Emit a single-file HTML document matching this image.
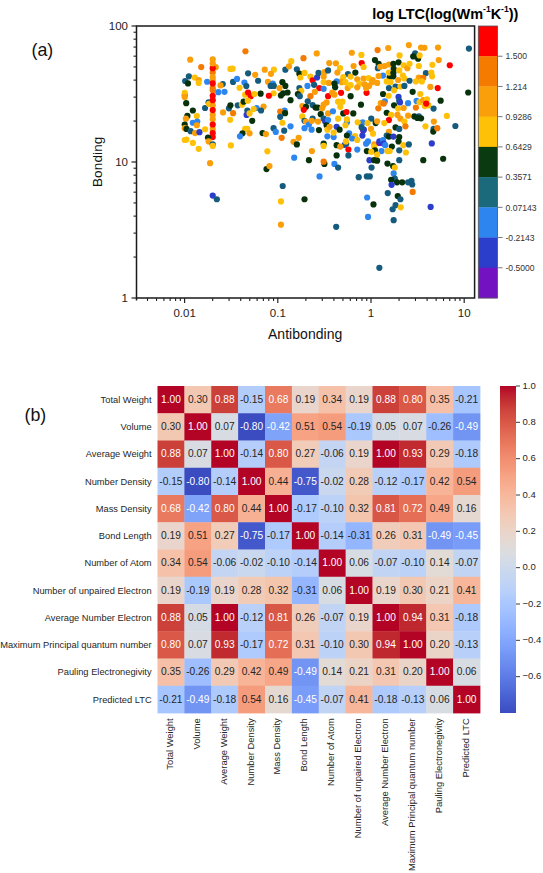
<!DOCTYPE html>
<html><head><meta charset="utf-8"><style>
html,body{margin:0;padding:0;background:#fff;}
svg{display:block;font-family:"Liberation Sans", sans-serif;}
</style></head><body>
<svg width="543" height="873" viewBox="0 0 543 873">
<rect width="543" height="873" fill="#fff"/>
<text x="31.5" y="56" font-size="17.8" fill="#111">(a)</text>
<rect x="136.5" y="26.0" width="338.1" height="272.0" fill="none" stroke="#1a1a1a" stroke-width="1.5"/>
<line x1="136.5" y1="298.0" x2="136.5" y2="300.5" stroke="#1a1a1a" stroke-width="1.5"/>
<line x1="133.5" y1="257.06" x2="136.5" y2="257.06" stroke="#222" stroke-width="1.1"/>
<line x1="133.5" y1="233.11" x2="136.5" y2="233.11" stroke="#222" stroke-width="1.1"/>
<line x1="133.5" y1="216.12" x2="136.5" y2="216.12" stroke="#222" stroke-width="1.1"/>
<line x1="133.5" y1="202.94" x2="136.5" y2="202.94" stroke="#222" stroke-width="1.1"/>
<line x1="133.5" y1="192.17" x2="136.5" y2="192.17" stroke="#222" stroke-width="1.1"/>
<line x1="133.5" y1="183.07" x2="136.5" y2="183.07" stroke="#222" stroke-width="1.1"/>
<line x1="133.5" y1="175.18" x2="136.5" y2="175.18" stroke="#222" stroke-width="1.1"/>
<line x1="133.5" y1="168.22" x2="136.5" y2="168.22" stroke="#222" stroke-width="1.1"/>
<line x1="133.5" y1="121.06" x2="136.5" y2="121.06" stroke="#222" stroke-width="1.1"/>
<line x1="133.5" y1="97.11" x2="136.5" y2="97.11" stroke="#222" stroke-width="1.1"/>
<line x1="133.5" y1="80.12" x2="136.5" y2="80.12" stroke="#222" stroke-width="1.1"/>
<line x1="133.5" y1="66.94" x2="136.5" y2="66.94" stroke="#222" stroke-width="1.1"/>
<line x1="133.5" y1="56.17" x2="136.5" y2="56.17" stroke="#222" stroke-width="1.1"/>
<line x1="133.5" y1="47.07" x2="136.5" y2="47.07" stroke="#222" stroke-width="1.1"/>
<line x1="133.5" y1="39.18" x2="136.5" y2="39.18" stroke="#222" stroke-width="1.1"/>
<line x1="133.5" y1="32.22" x2="136.5" y2="32.22" stroke="#222" stroke-width="1.1"/>
<line x1="131.5" y1="298.00" x2="136.5" y2="298.00" stroke="#222" stroke-width="1.2"/>
<text x="128" y="301.50" font-size="11.5" text-anchor="end" fill="#222">1</text>
<line x1="131.5" y1="162.00" x2="136.5" y2="162.00" stroke="#222" stroke-width="1.2"/>
<text x="128" y="165.50" font-size="11.5" text-anchor="end" fill="#222">10</text>
<line x1="131.5" y1="26.00" x2="136.5" y2="26.00" stroke="#222" stroke-width="1.2"/>
<text x="128" y="29.50" font-size="11.5" text-anchor="end" fill="#222">100</text>
<line x1="147.51" y1="298.0" x2="147.51" y2="301.0" stroke="#222" stroke-width="1.1"/>
<line x1="156.54" y1="298.0" x2="156.54" y2="301.0" stroke="#222" stroke-width="1.1"/>
<line x1="163.92" y1="298.0" x2="163.92" y2="301.0" stroke="#222" stroke-width="1.1"/>
<line x1="170.16" y1="298.0" x2="170.16" y2="301.0" stroke="#222" stroke-width="1.1"/>
<line x1="175.57" y1="298.0" x2="175.57" y2="301.0" stroke="#222" stroke-width="1.1"/>
<line x1="180.34" y1="298.0" x2="180.34" y2="301.0" stroke="#222" stroke-width="1.1"/>
<line x1="212.66" y1="298.0" x2="212.66" y2="301.0" stroke="#222" stroke-width="1.1"/>
<line x1="229.07" y1="298.0" x2="229.07" y2="301.0" stroke="#222" stroke-width="1.1"/>
<line x1="240.71" y1="298.0" x2="240.71" y2="301.0" stroke="#222" stroke-width="1.1"/>
<line x1="249.74" y1="298.0" x2="249.74" y2="301.0" stroke="#222" stroke-width="1.1"/>
<line x1="257.12" y1="298.0" x2="257.12" y2="301.0" stroke="#222" stroke-width="1.1"/>
<line x1="263.36" y1="298.0" x2="263.36" y2="301.0" stroke="#222" stroke-width="1.1"/>
<line x1="268.77" y1="298.0" x2="268.77" y2="301.0" stroke="#222" stroke-width="1.1"/>
<line x1="273.54" y1="298.0" x2="273.54" y2="301.0" stroke="#222" stroke-width="1.1"/>
<line x1="305.86" y1="298.0" x2="305.86" y2="301.0" stroke="#222" stroke-width="1.1"/>
<line x1="322.27" y1="298.0" x2="322.27" y2="301.0" stroke="#222" stroke-width="1.1"/>
<line x1="333.91" y1="298.0" x2="333.91" y2="301.0" stroke="#222" stroke-width="1.1"/>
<line x1="342.94" y1="298.0" x2="342.94" y2="301.0" stroke="#222" stroke-width="1.1"/>
<line x1="350.32" y1="298.0" x2="350.32" y2="301.0" stroke="#222" stroke-width="1.1"/>
<line x1="356.56" y1="298.0" x2="356.56" y2="301.0" stroke="#222" stroke-width="1.1"/>
<line x1="361.97" y1="298.0" x2="361.97" y2="301.0" stroke="#222" stroke-width="1.1"/>
<line x1="366.74" y1="298.0" x2="366.74" y2="301.0" stroke="#222" stroke-width="1.1"/>
<line x1="399.06" y1="298.0" x2="399.06" y2="301.0" stroke="#222" stroke-width="1.1"/>
<line x1="415.47" y1="298.0" x2="415.47" y2="301.0" stroke="#222" stroke-width="1.1"/>
<line x1="427.11" y1="298.0" x2="427.11" y2="301.0" stroke="#222" stroke-width="1.1"/>
<line x1="436.14" y1="298.0" x2="436.14" y2="301.0" stroke="#222" stroke-width="1.1"/>
<line x1="443.52" y1="298.0" x2="443.52" y2="301.0" stroke="#222" stroke-width="1.1"/>
<line x1="449.76" y1="298.0" x2="449.76" y2="301.0" stroke="#222" stroke-width="1.1"/>
<line x1="455.17" y1="298.0" x2="455.17" y2="301.0" stroke="#222" stroke-width="1.1"/>
<line x1="459.94" y1="298.0" x2="459.94" y2="301.0" stroke="#222" stroke-width="1.1"/>
<line x1="184.60" y1="298.0" x2="184.60" y2="303.0" stroke="#222" stroke-width="1.2"/>
<text x="184.60" y="316.7" font-size="11.5" text-anchor="middle" fill="#222">0.01</text>
<line x1="277.80" y1="298.0" x2="277.80" y2="303.0" stroke="#222" stroke-width="1.2"/>
<text x="277.80" y="316.7" font-size="11.5" text-anchor="middle" fill="#222">0.1</text>
<line x1="371.00" y1="298.0" x2="371.00" y2="303.0" stroke="#222" stroke-width="1.2"/>
<text x="371.00" y="316.7" font-size="11.5" text-anchor="middle" fill="#222">1</text>
<line x1="464.20" y1="298.0" x2="464.20" y2="303.0" stroke="#222" stroke-width="1.2"/>
<text x="464.20" y="316.7" font-size="11.5" text-anchor="middle" fill="#222">10</text>
<text x="268" y="338.9" font-size="14" fill="#111" textLength="74.3">Antibonding</text>
<text transform="translate(101.5,187) rotate(-90)" font-size="13.5" fill="#111" textLength="50.3">Bonding</text>
<text x="372.2" y="18.7" font-size="14.5" font-weight="bold" fill="#000">log LTC(log(Wm<tspan font-size="8.5" dy="-6.5">-1</tspan><tspan dy="6.5">K</tspan><tspan font-size="8.5" dy="-6.5">-1</tspan><tspan dy="6.5">))</tspan></text>
<rect x="478.3" y="26.00" width="19.30" height="30.52" fill="#FF0000"/>
<rect x="478.3" y="56.22" width="19.30" height="30.52" fill="#F57A00"/>
<rect x="478.3" y="86.44" width="19.30" height="30.52" fill="#FA9F0A"/>
<rect x="478.3" y="116.67" width="19.30" height="30.52" fill="#FFC107"/>
<rect x="478.3" y="146.89" width="19.30" height="30.52" fill="#093A10"/>
<rect x="478.3" y="177.11" width="19.30" height="30.52" fill="#1B6A7C"/>
<rect x="478.3" y="207.33" width="19.30" height="30.52" fill="#2D86F0"/>
<rect x="478.3" y="237.56" width="19.30" height="30.52" fill="#2B3DCB"/>
<rect x="478.3" y="267.78" width="19.30" height="30.52" fill="#7212C0"/>
<rect x="478.3" y="26.0" width="19.30" height="272.0" fill="none" stroke="#555" stroke-width="0.8"/>
<line x1="497.6" y1="56.22" x2="502.6" y2="56.22" stroke="#777" stroke-width="1"/>
<text x="505.5" y="59.42" font-size="8.6" fill="#333">1.500</text>
<line x1="497.6" y1="86.44" x2="502.6" y2="86.44" stroke="#777" stroke-width="1"/>
<text x="505.5" y="89.64" font-size="8.6" fill="#333">1.214</text>
<line x1="497.6" y1="116.67" x2="502.6" y2="116.67" stroke="#777" stroke-width="1"/>
<text x="505.5" y="119.87" font-size="8.6" fill="#333">0.9286</text>
<line x1="497.6" y1="146.89" x2="502.6" y2="146.89" stroke="#777" stroke-width="1"/>
<text x="505.5" y="150.09" font-size="8.6" fill="#333">0.6429</text>
<line x1="497.6" y1="177.11" x2="502.6" y2="177.11" stroke="#777" stroke-width="1"/>
<text x="505.5" y="180.31" font-size="8.6" fill="#333">0.3571</text>
<line x1="497.6" y1="207.33" x2="502.6" y2="207.33" stroke="#777" stroke-width="1"/>
<text x="505.5" y="210.53" font-size="8.6" fill="#333">0.07143</text>
<line x1="497.6" y1="237.56" x2="502.6" y2="237.56" stroke="#777" stroke-width="1"/>
<text x="505.5" y="240.76" font-size="8.6" fill="#333">-0.2143</text>
<line x1="497.6" y1="267.78" x2="502.6" y2="267.78" stroke="#777" stroke-width="1"/>
<text x="505.5" y="270.98" font-size="8.6" fill="#333">-0.5000</text>
<circle cx="190.18" cy="59.66" r="3.1" fill="#FA9F0A"/>
<circle cx="212.73" cy="59.36" r="3.1" fill="#FA9F0A"/>
<circle cx="215.67" cy="67.17" r="3.1" fill="#FA9F0A"/>
<circle cx="201.23" cy="67.02" r="3.1" fill="#F57A00"/>
<circle cx="230.41" cy="68.94" r="3.1" fill="#FFC107"/>
<circle cx="232.62" cy="68.64" r="3.1" fill="#FFC107"/>
<circle cx="245.43" cy="51.26" r="3.1" fill="#F57A00"/>
<circle cx="188.86" cy="76.31" r="3.1" fill="#145B7E"/>
<circle cx="185.17" cy="81.02" r="3.1" fill="#145B7E"/>
<circle cx="187.97" cy="83.38" r="3.1" fill="#07320C"/>
<circle cx="194.75" cy="77.48" r="3.1" fill="#FFC107"/>
<circle cx="198.73" cy="79.99" r="3.1" fill="#FA9F0A"/>
<circle cx="198.73" cy="82.94" r="3.1" fill="#FFC107"/>
<circle cx="207.13" cy="81.76" r="3.1" fill="#2D86F0"/>
<circle cx="212.73" cy="72.62" r="3.1" fill="#F57A00"/>
<circle cx="212.73" cy="77.04" r="3.1" fill="#FA9F0A"/>
<circle cx="212.73" cy="79.99" r="3.1" fill="#FA9F0A"/>
<circle cx="212.73" cy="88.09" r="3.1" fill="#F57A00"/>
<circle cx="212.73" cy="90.3" r="3.1" fill="#F57A00"/>
<circle cx="212.73" cy="68.2" r="3.1" fill="#FF0000"/>
<circle cx="212.73" cy="83.38" r="3.1" fill="#FF0000"/>
<circle cx="212.73" cy="95.75" r="3.1" fill="#FF0000"/>
<circle cx="222.74" cy="84.11" r="3.1" fill="#145B7E"/>
<circle cx="220.53" cy="85.44" r="3.1" fill="#FA9F0A"/>
<circle cx="218.32" cy="92.22" r="3.1" fill="#2D86F0"/>
<circle cx="224.51" cy="91.78" r="3.1" fill="#2D86F0"/>
<circle cx="233.06" cy="81.9" r="3.1" fill="#145B7E"/>
<circle cx="237.03" cy="78.96" r="3.1" fill="#2D86F0"/>
<circle cx="244.4" cy="82.49" r="3.1" fill="#2D86F0"/>
<circle cx="246.32" cy="86.03" r="3.1" fill="#145B7E"/>
<circle cx="239.54" cy="87.8" r="3.1" fill="#FFC107"/>
<circle cx="248.08" cy="73.36" r="3.1" fill="#145B7E"/>
<circle cx="245.14" cy="94.72" r="3.1" fill="#FFC107"/>
<circle cx="248.08" cy="92.51" r="3.1" fill="#FF0000"/>
<circle cx="250.74" cy="96.2" r="3.1" fill="#FF0000"/>
<circle cx="184.73" cy="95.16" r="3.1" fill="#2D86F0"/>
<circle cx="184.73" cy="92.81" r="3.1" fill="#FFC107"/>
<circle cx="184.73" cy="96.93" r="3.1" fill="#FA9F0A"/>
<circle cx="212.73" cy="63.34" r="3.1" fill="#FA9F0A"/>
<circle cx="316.74" cy="53.47" r="3.1" fill="#FA9F0A"/>
<circle cx="303.48" cy="58.18" r="3.1" fill="#F57A00"/>
<circle cx="291.25" cy="61.13" r="3.1" fill="#FFC107"/>
<circle cx="329.26" cy="63.05" r="3.1" fill="#FA9F0A"/>
<circle cx="285.36" cy="69.68" r="3.1" fill="#145B7E"/>
<circle cx="289.04" cy="66.29" r="3.1" fill="#FA9F0A"/>
<circle cx="296.85" cy="69.23" r="3.1" fill="#145B7E"/>
<circle cx="299.36" cy="73.65" r="3.1" fill="#07320C"/>
<circle cx="304.51" cy="72.92" r="3.1" fill="#FFC107"/>
<circle cx="300.39" cy="77.48" r="3.1" fill="#FFC107"/>
<circle cx="264.73" cy="69.68" r="3.1" fill="#FA9F0A"/>
<circle cx="273.87" cy="69.68" r="3.1" fill="#FFC107"/>
<circle cx="270.92" cy="73.8" r="3.1" fill="#FA9F0A"/>
<circle cx="255.16" cy="74.83" r="3.1" fill="#FA9F0A"/>
<circle cx="258.1" cy="80.73" r="3.1" fill="#145B7E"/>
<circle cx="267.97" cy="81.76" r="3.1" fill="#FA9F0A"/>
<circle cx="272.84" cy="83.67" r="3.1" fill="#2D86F0"/>
<circle cx="270.63" cy="85.88" r="3.1" fill="#145B7E"/>
<circle cx="273.87" cy="85.88" r="3.1" fill="#145B7E"/>
<circle cx="282.41" cy="82.2" r="3.1" fill="#07320C"/>
<circle cx="285.36" cy="85.88" r="3.1" fill="#07320C"/>
<circle cx="279.47" cy="88.09" r="3.1" fill="#FA9F0A"/>
<circle cx="283.15" cy="93.25" r="3.1" fill="#07320C"/>
<circle cx="287.57" cy="92.51" r="3.1" fill="#07320C"/>
<circle cx="280.94" cy="95.46" r="3.1" fill="#07320C"/>
<circle cx="273.57" cy="93.25" r="3.1" fill="#FFC107"/>
<circle cx="268.86" cy="95.75" r="3.1" fill="#FF0000"/>
<circle cx="260.61" cy="93.69" r="3.1" fill="#07320C"/>
<circle cx="254.42" cy="93.99" r="3.1" fill="#FFC107"/>
<circle cx="299.36" cy="88.09" r="3.1" fill="#145B7E"/>
<circle cx="301.27" cy="90.74" r="3.1" fill="#FFC107"/>
<circle cx="297.88" cy="93.99" r="3.1" fill="#07320C"/>
<circle cx="299.8" cy="96.2" r="3.1" fill="#145B7E"/>
<circle cx="310.41" cy="76.6" r="3.1" fill="#FFC107"/>
<circle cx="312.62" cy="80.28" r="3.1" fill="#FF0000"/>
<circle cx="317.03" cy="77.48" r="3.1" fill="#2B3DCB"/>
<circle cx="318.51" cy="72.92" r="3.1" fill="#145B7E"/>
<circle cx="324.4" cy="72.18" r="3.1" fill="#FA9F0A"/>
<circle cx="323.66" cy="76.6" r="3.1" fill="#FA9F0A"/>
<circle cx="328.08" cy="70.41" r="3.1" fill="#145B7E"/>
<circle cx="307.46" cy="85.88" r="3.1" fill="#2D86F0"/>
<circle cx="314.09" cy="84.85" r="3.1" fill="#145B7E"/>
<circle cx="319.24" cy="88.09" r="3.1" fill="#FF0000"/>
<circle cx="323.66" cy="88.83" r="3.1" fill="#2D86F0"/>
<circle cx="314.83" cy="91.78" r="3.1" fill="#FA9F0A"/>
<circle cx="323.66" cy="82.2" r="3.1" fill="#FFC107"/>
<circle cx="310.41" cy="96.2" r="3.1" fill="#F57A00"/>
<circle cx="328.08" cy="96.2" r="3.1" fill="#FF0000"/>
<circle cx="328.82" cy="82.94" r="3.1" fill="#FA9F0A"/>
<circle cx="351.8" cy="52.73" r="3.1" fill="#FA9F0A"/>
<circle cx="361.38" cy="54.94" r="3.1" fill="#FFC107"/>
<circle cx="377.59" cy="50.08" r="3.1" fill="#F57A00"/>
<circle cx="388.2" cy="48.02" r="3.1" fill="#FA9F0A"/>
<circle cx="408.82" cy="45.07" r="3.1" fill="#FA9F0A"/>
<circle cx="399.54" cy="55.38" r="3.1" fill="#FFC107"/>
<circle cx="361.68" cy="63.05" r="3.1" fill="#FF0000"/>
<circle cx="363.59" cy="67.02" r="3.1" fill="#FFC107"/>
<circle cx="353.57" cy="65.99" r="3.1" fill="#FA9F0A"/>
<circle cx="335.89" cy="63.34" r="3.1" fill="#FA9F0A"/>
<circle cx="340.02" cy="68.2" r="3.1" fill="#FFC107"/>
<circle cx="337.37" cy="72.62" r="3.1" fill="#FA9F0A"/>
<circle cx="347.97" cy="74.1" r="3.1" fill="#145B7E"/>
<circle cx="350.63" cy="76.6" r="3.1" fill="#FFC107"/>
<circle cx="355.34" cy="72.62" r="3.1" fill="#07320C"/>
<circle cx="374.94" cy="60.1" r="3.1" fill="#07320C"/>
<circle cx="378.62" cy="63.78" r="3.1" fill="#07320C"/>
<circle cx="377.88" cy="68.2" r="3.1" fill="#145B7E"/>
<circle cx="380.09" cy="66.73" r="3.1" fill="#FA9F0A"/>
<circle cx="384.51" cy="65.99" r="3.1" fill="#FA9F0A"/>
<circle cx="388.93" cy="64.52" r="3.1" fill="#FA9F0A"/>
<circle cx="393.35" cy="63.78" r="3.1" fill="#07320C"/>
<circle cx="393.65" cy="68.94" r="3.1" fill="#07320C"/>
<circle cx="393.35" cy="76.31" r="3.1" fill="#07320C"/>
<circle cx="389.67" cy="77.04" r="3.1" fill="#07320C"/>
<circle cx="398.51" cy="62.31" r="3.1" fill="#07320C"/>
<circle cx="399.24" cy="70.41" r="3.1" fill="#FFC107"/>
<circle cx="403.66" cy="65.26" r="3.1" fill="#FFC107"/>
<circle cx="407.35" cy="68.2" r="3.1" fill="#FA9F0A"/>
<circle cx="409.56" cy="63.78" r="3.1" fill="#FFC107"/>
<circle cx="388.93" cy="72.62" r="3.1" fill="#FFC107"/>
<circle cx="383.04" cy="75.57" r="3.1" fill="#2D86F0"/>
<circle cx="378.62" cy="76.01" r="3.1" fill="#FA9F0A"/>
<circle cx="402.93" cy="75.57" r="3.1" fill="#FFC107"/>
<circle cx="404.4" cy="78.52" r="3.1" fill="#FFC107"/>
<circle cx="398.07" cy="79.99" r="3.1" fill="#FA9F0A"/>
<circle cx="343.26" cy="77.04" r="3.1" fill="#FFC107"/>
<circle cx="341.79" cy="80.73" r="3.1" fill="#FFC107"/>
<circle cx="341.79" cy="82.2" r="3.1" fill="#FA9F0A"/>
<circle cx="345.47" cy="82.2" r="3.1" fill="#FFC107"/>
<circle cx="336.63" cy="81.46" r="3.1" fill="#2D86F0"/>
<circle cx="334.42" cy="83.67" r="3.1" fill="#07320C"/>
<circle cx="335.16" cy="87.36" r="3.1" fill="#07320C"/>
<circle cx="332.21" cy="92.51" r="3.1" fill="#FA9F0A"/>
<circle cx="334.42" cy="94.72" r="3.1" fill="#FA9F0A"/>
<circle cx="357.26" cy="79.25" r="3.1" fill="#FA9F0A"/>
<circle cx="363.59" cy="78.52" r="3.1" fill="#FA9F0A"/>
<circle cx="368.6" cy="78.07" r="3.1" fill="#FFC107"/>
<circle cx="372.73" cy="79.99" r="3.1" fill="#FA9F0A"/>
<circle cx="359.47" cy="83.67" r="3.1" fill="#FFC107"/>
<circle cx="364.62" cy="84.41" r="3.1" fill="#FA9F0A"/>
<circle cx="369.04" cy="85.88" r="3.1" fill="#FA9F0A"/>
<circle cx="371.99" cy="82.2" r="3.1" fill="#FA9F0A"/>
<circle cx="377.15" cy="82.94" r="3.1" fill="#FA9F0A"/>
<circle cx="347.68" cy="88.09" r="3.1" fill="#FA9F0A"/>
<circle cx="350.63" cy="85.15" r="3.1" fill="#FFC107"/>
<circle cx="357.26" cy="87.36" r="3.1" fill="#FA9F0A"/>
<circle cx="386.72" cy="81.46" r="3.1" fill="#FFC107"/>
<circle cx="390.41" cy="82.2" r="3.1" fill="#FFC107"/>
<circle cx="388.93" cy="88.09" r="3.1" fill="#145B7E"/>
<circle cx="395.56" cy="86.62" r="3.1" fill="#145B7E"/>
<circle cx="394.09" cy="90.3" r="3.1" fill="#FFC107"/>
<circle cx="400.42" cy="86.62" r="3.1" fill="#FFC107"/>
<circle cx="404.4" cy="85.88" r="3.1" fill="#145B7E"/>
<circle cx="341.05" cy="92.81" r="3.1" fill="#FF0000"/>
<circle cx="366.54" cy="92.81" r="3.1" fill="#FF0000"/>
<circle cx="350.63" cy="96.2" r="3.1" fill="#07320C"/>
<circle cx="383.04" cy="93.99" r="3.1" fill="#07320C"/>
<circle cx="388.64" cy="95.75" r="3.1" fill="#FFC107"/>
<circle cx="366.1" cy="88.09" r="3.1" fill="#FA9F0A"/>
<circle cx="398.51" cy="96.93" r="3.1" fill="#2B3DCB"/>
<circle cx="409.56" cy="80.73" r="3.1" fill="#145B7E"/>
<circle cx="393.35" cy="73.06" r="3.1" fill="#07320C"/>
<circle cx="421.05" cy="47.58" r="3.1" fill="#FA9F0A"/>
<circle cx="424.44" cy="47.87" r="3.1" fill="#FA9F0A"/>
<circle cx="437.99" cy="47.58" r="3.1" fill="#FA9F0A"/>
<circle cx="468.93" cy="48.61" r="3.1" fill="#145B7E"/>
<circle cx="415.16" cy="53.47" r="3.1" fill="#145B7E"/>
<circle cx="413.24" cy="56.42" r="3.1" fill="#07320C"/>
<circle cx="418.1" cy="58.63" r="3.1" fill="#07320C"/>
<circle cx="419.58" cy="55.38" r="3.1" fill="#FFC107"/>
<circle cx="438.73" cy="60.1" r="3.1" fill="#FA9F0A"/>
<circle cx="449.78" cy="65.26" r="3.1" fill="#FF0000"/>
<circle cx="418.84" cy="65.99" r="3.1" fill="#FFC107"/>
<circle cx="432.39" cy="64.81" r="3.1" fill="#FFC107"/>
<circle cx="425.91" cy="73.06" r="3.1" fill="#145B7E"/>
<circle cx="431.36" cy="72.62" r="3.1" fill="#FFC107"/>
<circle cx="432.1" cy="76.31" r="3.1" fill="#FFC107"/>
<circle cx="418.84" cy="77.48" r="3.1" fill="#FA9F0A"/>
<circle cx="423.26" cy="77.78" r="3.1" fill="#F57A00"/>
<circle cx="421.79" cy="81.46" r="3.1" fill="#FFC107"/>
<circle cx="415.89" cy="81.46" r="3.1" fill="#FFC107"/>
<circle cx="430.33" cy="86.91" r="3.1" fill="#FA9F0A"/>
<circle cx="437.7" cy="88.09" r="3.1" fill="#FF0000"/>
<circle cx="412.65" cy="91.78" r="3.1" fill="#07320C"/>
<circle cx="420.31" cy="93.99" r="3.1" fill="#FFC107"/>
<circle cx="468.2" cy="92.51" r="3.1" fill="#07320C"/>
<circle cx="186.21" cy="103.16" r="3.1" fill="#07320C"/>
<circle cx="192.84" cy="110.52" r="3.1" fill="#07320C"/>
<circle cx="205.06" cy="108.02" r="3.1" fill="#145B7E"/>
<circle cx="208.6" cy="102.42" r="3.1" fill="#145B7E"/>
<circle cx="209.04" cy="103.89" r="3.1" fill="#FFC107"/>
<circle cx="212.73" cy="105.37" r="3.1" fill="#FA9F0A"/>
<circle cx="212.73" cy="114.94" r="3.1" fill="#FA9F0A"/>
<circle cx="212.73" cy="119.36" r="3.1" fill="#FA9F0A"/>
<circle cx="212.73" cy="128.94" r="3.1" fill="#FA9F0A"/>
<circle cx="212.73" cy="100.21" r="3.1" fill="#FF0000"/>
<circle cx="212.73" cy="110.08" r="3.1" fill="#FF0000"/>
<circle cx="212.73" cy="124.52" r="3.1" fill="#FF0000"/>
<circle cx="212.73" cy="133.06" r="3.1" fill="#FF0000"/>
<circle cx="212.73" cy="137.04" r="3.1" fill="#FF0000"/>
<circle cx="187.38" cy="115.97" r="3.1" fill="#07320C"/>
<circle cx="185.91" cy="118.63" r="3.1" fill="#FA9F0A"/>
<circle cx="196.81" cy="116.12" r="3.1" fill="#FFC107"/>
<circle cx="192.84" cy="122.75" r="3.1" fill="#2D86F0"/>
<circle cx="197.26" cy="121.57" r="3.1" fill="#2D86F0"/>
<circle cx="196.81" cy="125.26" r="3.1" fill="#FA9F0A"/>
<circle cx="184.73" cy="124.52" r="3.1" fill="#07320C"/>
<circle cx="184.73" cy="128.2" r="3.1" fill="#FA9F0A"/>
<circle cx="186.5" cy="128.94" r="3.1" fill="#07320C"/>
<circle cx="190.63" cy="131.15" r="3.1" fill="#145B7E"/>
<circle cx="195.05" cy="133.06" r="3.1" fill="#FA9F0A"/>
<circle cx="199.47" cy="132.18" r="3.1" fill="#2B3DCB"/>
<circle cx="205.06" cy="129.23" r="3.1" fill="#FFC107"/>
<circle cx="208.01" cy="137.48" r="3.1" fill="#07320C"/>
<circle cx="208.6" cy="141.46" r="3.1" fill="#FA9F0A"/>
<circle cx="212.73" cy="144.41" r="3.1" fill="#145B7E"/>
<circle cx="212.73" cy="145.88" r="3.1" fill="#FFC107"/>
<circle cx="184.73" cy="139.99" r="3.1" fill="#FFC107"/>
<circle cx="186.5" cy="139.55" r="3.1" fill="#FFC107"/>
<circle cx="192.84" cy="142.94" r="3.1" fill="#FFC107"/>
<circle cx="198.73" cy="148.83" r="3.1" fill="#FFC107"/>
<circle cx="223.04" cy="112.44" r="3.1" fill="#FA9F0A"/>
<circle cx="233.06" cy="113.17" r="3.1" fill="#F57A00"/>
<circle cx="228.93" cy="108.31" r="3.1" fill="#145B7E"/>
<circle cx="230.41" cy="105.37" r="3.1" fill="#07320C"/>
<circle cx="237.77" cy="105.37" r="3.1" fill="#145B7E"/>
<circle cx="241.9" cy="104.63" r="3.1" fill="#FFC107"/>
<circle cx="243.66" cy="101.68" r="3.1" fill="#07320C"/>
<circle cx="247.79" cy="100.65" r="3.1" fill="#FFC107"/>
<circle cx="230.11" cy="119.8" r="3.1" fill="#FFC107"/>
<circle cx="247.35" cy="110.52" r="3.1" fill="#145B7E"/>
<circle cx="246.61" cy="114.94" r="3.1" fill="#2B3DCB"/>
<circle cx="249.56" cy="113.47" r="3.1" fill="#FFC107"/>
<circle cx="245.14" cy="128.94" r="3.1" fill="#FFC107"/>
<circle cx="247.35" cy="128.94" r="3.1" fill="#FFC107"/>
<circle cx="242.49" cy="133.36" r="3.1" fill="#07320C"/>
<circle cx="239.98" cy="136.31" r="3.1" fill="#2D86F0"/>
<circle cx="249.56" cy="133.36" r="3.1" fill="#FA9F0A"/>
<circle cx="230.85" cy="145.44" r="3.1" fill="#FFC107"/>
<circle cx="290.52" cy="100.21" r="3.1" fill="#07320C"/>
<circle cx="307.75" cy="101.24" r="3.1" fill="#145B7E"/>
<circle cx="263.55" cy="106.55" r="3.1" fill="#FA9F0A"/>
<circle cx="256.63" cy="108.02" r="3.1" fill="#2D86F0"/>
<circle cx="261.05" cy="110.52" r="3.1" fill="#145B7E"/>
<circle cx="253.68" cy="109.05" r="3.1" fill="#FFC107"/>
<circle cx="252.21" cy="120.84" r="3.1" fill="#07320C"/>
<circle cx="284.62" cy="110.52" r="3.1" fill="#2D86F0"/>
<circle cx="280.2" cy="111.55" r="3.1" fill="#F57A00"/>
<circle cx="285.06" cy="113.17" r="3.1" fill="#07320C"/>
<circle cx="280.2" cy="116.86" r="3.1" fill="#145B7E"/>
<circle cx="282.41" cy="122.75" r="3.1" fill="#FFC107"/>
<circle cx="290.52" cy="126.29" r="3.1" fill="#2D86F0"/>
<circle cx="273.57" cy="128.2" r="3.1" fill="#145B7E"/>
<circle cx="275.78" cy="131.89" r="3.1" fill="#2D86F0"/>
<circle cx="284.18" cy="130.71" r="3.1" fill="#145B7E"/>
<circle cx="262.52" cy="133.06" r="3.1" fill="#07320C"/>
<circle cx="265.91" cy="134.1" r="3.1" fill="#FA9F0A"/>
<circle cx="281.68" cy="137.78" r="3.1" fill="#F57A00"/>
<circle cx="298.62" cy="137.78" r="3.1" fill="#FA9F0A"/>
<circle cx="293.46" cy="141.76" r="3.1" fill="#FA9F0A"/>
<circle cx="296.85" cy="144.41" r="3.1" fill="#07320C"/>
<circle cx="267.38" cy="151.33" r="3.1" fill="#FFC107"/>
<circle cx="311.88" cy="151.04" r="3.1" fill="#FA9F0A"/>
<circle cx="294.2" cy="157.67" r="3.1" fill="#2D86F0"/>
<circle cx="302.3" cy="106.1" r="3.1" fill="#FA9F0A"/>
<circle cx="305.99" cy="106.84" r="3.1" fill="#07320C"/>
<circle cx="303.78" cy="109.79" r="3.1" fill="#FF0000"/>
<circle cx="312.62" cy="105.07" r="3.1" fill="#145B7E"/>
<circle cx="315.56" cy="107.58" r="3.1" fill="#07320C"/>
<circle cx="317.77" cy="107.58" r="3.1" fill="#07320C"/>
<circle cx="322.19" cy="108.31" r="3.1" fill="#FA9F0A"/>
<circle cx="323.66" cy="104.63" r="3.1" fill="#FA9F0A"/>
<circle cx="326.61" cy="102.42" r="3.1" fill="#FA9F0A"/>
<circle cx="302.3" cy="116.42" r="3.1" fill="#FFC107"/>
<circle cx="312.62" cy="118.63" r="3.1" fill="#145B7E"/>
<circle cx="304.51" cy="120.84" r="3.1" fill="#145B7E"/>
<circle cx="305.99" cy="121.57" r="3.1" fill="#FA9F0A"/>
<circle cx="308.93" cy="124.52" r="3.1" fill="#2D86F0"/>
<circle cx="311.88" cy="120.84" r="3.1" fill="#FA9F0A"/>
<circle cx="318.07" cy="121.57" r="3.1" fill="#FA9F0A"/>
<circle cx="320.72" cy="114.21" r="3.1" fill="#07320C"/>
<circle cx="328.08" cy="113.47" r="3.1" fill="#FA9F0A"/>
<circle cx="323.66" cy="118.63" r="3.1" fill="#145B7E"/>
<circle cx="325.14" cy="121.57" r="3.1" fill="#2B3DCB"/>
<circle cx="328.08" cy="120.1" r="3.1" fill="#2D86F0"/>
<circle cx="304.51" cy="128.2" r="3.1" fill="#2D86F0"/>
<circle cx="311.58" cy="129.68" r="3.1" fill="#2D86F0"/>
<circle cx="318.95" cy="130.12" r="3.1" fill="#07320C"/>
<circle cx="326.61" cy="125.26" r="3.1" fill="#07320C"/>
<circle cx="327.35" cy="129.68" r="3.1" fill="#FFC107"/>
<circle cx="329.56" cy="126.73" r="3.1" fill="#FA9F0A"/>
<circle cx="327.35" cy="136.31" r="3.1" fill="#2D86F0"/>
<circle cx="323.66" cy="143.67" r="3.1" fill="#07320C"/>
<circle cx="323.66" cy="145.88" r="3.1" fill="#FFC107"/>
<circle cx="338.1" cy="101.68" r="3.1" fill="#FFC107"/>
<circle cx="342.52" cy="101.68" r="3.1" fill="#FFC107"/>
<circle cx="340.31" cy="106.84" r="3.1" fill="#FFC107"/>
<circle cx="360.94" cy="104.63" r="3.1" fill="#07320C"/>
<circle cx="378.32" cy="108.31" r="3.1" fill="#F57A00"/>
<circle cx="384.81" cy="101.24" r="3.1" fill="#2D86F0"/>
<circle cx="380.83" cy="103.16" r="3.1" fill="#FA9F0A"/>
<circle cx="383.78" cy="103.6" r="3.1" fill="#F57A00"/>
<circle cx="399.24" cy="100.95" r="3.1" fill="#145B7E"/>
<circle cx="399.98" cy="102.42" r="3.1" fill="#2B3DCB"/>
<circle cx="394.09" cy="105.37" r="3.1" fill="#07320C"/>
<circle cx="398.07" cy="108.61" r="3.1" fill="#FFC107"/>
<circle cx="403.66" cy="108.02" r="3.1" fill="#FA9F0A"/>
<circle cx="408.08" cy="103.16" r="3.1" fill="#2D86F0"/>
<circle cx="332.95" cy="111.26" r="3.1" fill="#2D86F0"/>
<circle cx="343.26" cy="113.47" r="3.1" fill="#07320C"/>
<circle cx="346.5" cy="112.0" r="3.1" fill="#FF0000"/>
<circle cx="353.28" cy="113.47" r="3.1" fill="#07320C"/>
<circle cx="338.1" cy="118.63" r="3.1" fill="#FFC107"/>
<circle cx="346.94" cy="122.31" r="3.1" fill="#2D86F0"/>
<circle cx="346.94" cy="119.36" r="3.1" fill="#FFC107"/>
<circle cx="345.47" cy="125.26" r="3.1" fill="#FFC107"/>
<circle cx="336.63" cy="126.73" r="3.1" fill="#2B3DCB"/>
<circle cx="339.58" cy="129.68" r="3.1" fill="#07320C"/>
<circle cx="333.68" cy="137.04" r="3.1" fill="#2D86F0"/>
<circle cx="333.68" cy="132.62" r="3.1" fill="#FFC107"/>
<circle cx="360.94" cy="123.05" r="3.1" fill="#145B7E"/>
<circle cx="362.71" cy="122.31" r="3.1" fill="#2D86F0"/>
<circle cx="357.7" cy="122.31" r="3.1" fill="#FFC107"/>
<circle cx="371.25" cy="118.63" r="3.1" fill="#145B7E"/>
<circle cx="367.57" cy="123.05" r="3.1" fill="#FFC107"/>
<circle cx="375.67" cy="123.05" r="3.1" fill="#07320C"/>
<circle cx="377.15" cy="121.28" r="3.1" fill="#FA9F0A"/>
<circle cx="363.15" cy="130.41" r="3.1" fill="#7212C0"/>
<circle cx="363.89" cy="129.68" r="3.1" fill="#2B3DCB"/>
<circle cx="361.68" cy="127.47" r="3.1" fill="#145B7E"/>
<circle cx="370.96" cy="128.94" r="3.1" fill="#FA9F0A"/>
<circle cx="373.02" cy="133.65" r="3.1" fill="#FFC107"/>
<circle cx="362.41" cy="135.57" r="3.1" fill="#2B3DCB"/>
<circle cx="386.72" cy="112.73" r="3.1" fill="#07320C"/>
<circle cx="391.14" cy="114.94" r="3.1" fill="#FFC107"/>
<circle cx="388.93" cy="120.1" r="3.1" fill="#FF0000"/>
<circle cx="384.22" cy="123.05" r="3.1" fill="#FFC107"/>
<circle cx="397.48" cy="114.94" r="3.1" fill="#FA9F0A"/>
<circle cx="400.42" cy="118.63" r="3.1" fill="#FA9F0A"/>
<circle cx="404.4" cy="121.57" r="3.1" fill="#FFC107"/>
<circle cx="405.43" cy="126.29" r="3.1" fill="#F57A00"/>
<circle cx="408.08" cy="115.68" r="3.1" fill="#FA9F0A"/>
<circle cx="395.56" cy="127.47" r="3.1" fill="#07320C"/>
<circle cx="399.24" cy="128.94" r="3.1" fill="#145B7E"/>
<circle cx="388.93" cy="131.89" r="3.1" fill="#FA9F0A"/>
<circle cx="386.72" cy="135.57" r="3.1" fill="#145B7E"/>
<circle cx="388.93" cy="136.6" r="3.1" fill="#07320C"/>
<circle cx="393.35" cy="136.6" r="3.1" fill="#2B3DCB"/>
<circle cx="399.24" cy="137.04" r="3.1" fill="#07320C"/>
<circle cx="398.51" cy="141.46" r="3.1" fill="#07320C"/>
<circle cx="349.15" cy="133.36" r="3.1" fill="#2D86F0"/>
<circle cx="346.94" cy="135.57" r="3.1" fill="#07320C"/>
<circle cx="355.05" cy="136.01" r="3.1" fill="#FFC107"/>
<circle cx="352.1" cy="138.52" r="3.1" fill="#2D86F0"/>
<circle cx="357.26" cy="139.99" r="3.1" fill="#FFC107"/>
<circle cx="344.73" cy="144.85" r="3.1" fill="#2B3DCB"/>
<circle cx="346.21" cy="143.67" r="3.1" fill="#145B7E"/>
<circle cx="345.91" cy="141.46" r="3.1" fill="#FFC107"/>
<circle cx="336.63" cy="145.15" r="3.1" fill="#07320C"/>
<circle cx="340.31" cy="146.62" r="3.1" fill="#FA9F0A"/>
<circle cx="368.01" cy="141.46" r="3.1" fill="#2D86F0"/>
<circle cx="366.1" cy="143.67" r="3.1" fill="#2D86F0"/>
<circle cx="374.2" cy="144.41" r="3.1" fill="#FA9F0A"/>
<circle cx="374.2" cy="146.62" r="3.1" fill="#FFC107"/>
<circle cx="379.36" cy="142.94" r="3.1" fill="#7212C0"/>
<circle cx="379.36" cy="141.46" r="3.1" fill="#2B3DCB"/>
<circle cx="383.04" cy="139.99" r="3.1" fill="#2D86F0"/>
<circle cx="383.78" cy="143.67" r="3.1" fill="#2B3DCB"/>
<circle cx="385.25" cy="145.15" r="3.1" fill="#2D86F0"/>
<circle cx="391.88" cy="146.62" r="3.1" fill="#07320C"/>
<circle cx="403.37" cy="145.15" r="3.1" fill="#FFC107"/>
<circle cx="408.82" cy="144.41" r="3.1" fill="#145B7E"/>
<circle cx="348.42" cy="149.57" r="3.1" fill="#FF0000"/>
<circle cx="357.26" cy="149.57" r="3.1" fill="#2D86F0"/>
<circle cx="366.83" cy="151.04" r="3.1" fill="#07320C"/>
<circle cx="374.94" cy="150.3" r="3.1" fill="#07320C"/>
<circle cx="371.25" cy="151.78" r="3.1" fill="#FFC107"/>
<circle cx="381.57" cy="151.04" r="3.1" fill="#2D86F0"/>
<circle cx="377.15" cy="154.72" r="3.1" fill="#FFC107"/>
<circle cx="387.46" cy="151.04" r="3.1" fill="#FFC107"/>
<circle cx="389.67" cy="151.04" r="3.1" fill="#FFC107"/>
<circle cx="399.24" cy="150.3" r="3.1" fill="#145B7E"/>
<circle cx="405.87" cy="152.51" r="3.1" fill="#FFC107"/>
<circle cx="336.63" cy="155.46" r="3.1" fill="#07320C"/>
<circle cx="348.42" cy="155.46" r="3.1" fill="#145B7E"/>
<circle cx="416.63" cy="100.95" r="3.1" fill="#2D86F0"/>
<circle cx="419.58" cy="102.13" r="3.1" fill="#FFC107"/>
<circle cx="423.26" cy="100.21" r="3.1" fill="#FA9F0A"/>
<circle cx="426.94" cy="99.47" r="3.1" fill="#FFC107"/>
<circle cx="424.73" cy="106.1" r="3.1" fill="#FFC107"/>
<circle cx="428.42" cy="105.37" r="3.1" fill="#FFC107"/>
<circle cx="426.21" cy="103.6" r="3.1" fill="#FF0000"/>
<circle cx="440.64" cy="100.65" r="3.1" fill="#07320C"/>
<circle cx="415.89" cy="107.58" r="3.1" fill="#F57A00"/>
<circle cx="433.57" cy="108.61" r="3.1" fill="#145B7E"/>
<circle cx="414.42" cy="116.42" r="3.1" fill="#07320C"/>
<circle cx="418.84" cy="116.42" r="3.1" fill="#145B7E"/>
<circle cx="417.37" cy="117.89" r="3.1" fill="#07320C"/>
<circle cx="421.05" cy="118.33" r="3.1" fill="#07320C"/>
<circle cx="446.83" cy="115.97" r="3.1" fill="#FFC107"/>
<circle cx="433.87" cy="121.57" r="3.1" fill="#FA9F0A"/>
<circle cx="425.47" cy="126.29" r="3.1" fill="#FFC107"/>
<circle cx="433.57" cy="128.94" r="3.1" fill="#145B7E"/>
<circle cx="433.28" cy="131.59" r="3.1" fill="#07320C"/>
<circle cx="437.26" cy="128.2" r="3.1" fill="#F57A00"/>
<circle cx="455.38" cy="125.99" r="3.1" fill="#145B7E"/>
<circle cx="431.8" cy="143.38" r="3.1" fill="#2B3DCB"/>
<circle cx="210.07" cy="163.16" r="3.1" fill="#FA9F0A"/>
<circle cx="212.73" cy="195.57" r="3.1" fill="#2B3DCB"/>
<circle cx="216.85" cy="199.25" r="3.1" fill="#145B7E"/>
<circle cx="308.93" cy="160.21" r="3.1" fill="#07320C"/>
<circle cx="324.4" cy="163.89" r="3.1" fill="#07320C"/>
<circle cx="323.66" cy="161.68" r="3.1" fill="#F57A00"/>
<circle cx="266.5" cy="169.05" r="3.1" fill="#07320C"/>
<circle cx="269.45" cy="166.1" r="3.1" fill="#FA9F0A"/>
<circle cx="319.54" cy="176.42" r="3.1" fill="#2D86F0"/>
<circle cx="282.71" cy="185.99" r="3.1" fill="#145B7E"/>
<circle cx="280.94" cy="201.46" r="3.1" fill="#FFC107"/>
<circle cx="304.51" cy="199.25" r="3.1" fill="#07320C"/>
<circle cx="369.48" cy="160.21" r="3.1" fill="#2B3DCB"/>
<circle cx="374.2" cy="160.21" r="3.1" fill="#07320C"/>
<circle cx="377.15" cy="160.65" r="3.1" fill="#07320C"/>
<circle cx="399.24" cy="160.21" r="3.1" fill="#145B7E"/>
<circle cx="387.46" cy="163.6" r="3.1" fill="#07320C"/>
<circle cx="393.06" cy="166.1" r="3.1" fill="#07320C"/>
<circle cx="394.83" cy="167.58" r="3.1" fill="#FFC107"/>
<circle cx="334.42" cy="163.89" r="3.1" fill="#2D86F0"/>
<circle cx="338.1" cy="167.58" r="3.1" fill="#145B7E"/>
<circle cx="371.55" cy="167.58" r="3.1" fill="#145B7E"/>
<circle cx="393.65" cy="173.47" r="3.1" fill="#2D86F0"/>
<circle cx="358.73" cy="177.15" r="3.1" fill="#145B7E"/>
<circle cx="366.83" cy="176.42" r="3.1" fill="#145B7E"/>
<circle cx="369.78" cy="176.42" r="3.1" fill="#145B7E"/>
<circle cx="394.83" cy="178.63" r="3.1" fill="#145B7E"/>
<circle cx="391.14" cy="179.8" r="3.1" fill="#07320C"/>
<circle cx="397.03" cy="182.31" r="3.1" fill="#07320C"/>
<circle cx="402.19" cy="182.31" r="3.1" fill="#07320C"/>
<circle cx="408.08" cy="182.31" r="3.1" fill="#145B7E"/>
<circle cx="391.58" cy="184.81" r="3.1" fill="#2B3DCB"/>
<circle cx="387.75" cy="193.06" r="3.1" fill="#145B7E"/>
<circle cx="397.77" cy="196.01" r="3.1" fill="#07320C"/>
<circle cx="400.42" cy="199.25" r="3.1" fill="#145B7E"/>
<circle cx="367.13" cy="197.48" r="3.1" fill="#2D86F0"/>
<circle cx="373.46" cy="204.41" r="3.1" fill="#07320C"/>
<circle cx="395.56" cy="205.15" r="3.1" fill="#145B7E"/>
<circle cx="392.62" cy="209.27" r="3.1" fill="#145B7E"/>
<circle cx="400.72" cy="207.36" r="3.1" fill="#FFC107"/>
<circle cx="368.01" cy="216.93" r="3.1" fill="#2D86F0"/>
<circle cx="423.26" cy="160.21" r="3.1" fill="#07320C"/>
<circle cx="443.15" cy="158.74" r="3.1" fill="#07320C"/>
<circle cx="411.47" cy="180.84" r="3.1" fill="#145B7E"/>
<circle cx="412.21" cy="184.52" r="3.1" fill="#145B7E"/>
<circle cx="412.65" cy="191.89" r="3.1" fill="#F57A00"/>
<circle cx="430.63" cy="206.91" r="3.1" fill="#2B3DCB"/>
<circle cx="280.94" cy="224.63" r="3.1" fill="#FA9F0A"/>
<circle cx="393.65" cy="220.21" r="3.1" fill="#145B7E"/>
<circle cx="336.19" cy="226.84" r="3.1" fill="#145B7E"/>
<circle cx="379.36" cy="267.8" r="3.1" fill="#145B7E"/>
<text x="24.5" y="421" font-size="17.8" fill="#111">(b)</text>
<rect x="157.50" y="386.00" width="27.27" height="27.65" fill="#b40426"/>
<rect x="184.38" y="386.00" width="27.27" height="27.65" fill="#f3c8b2"/>
<rect x="211.25" y="386.00" width="27.27" height="27.65" fill="#cc403a"/>
<rect x="238.12" y="386.00" width="27.27" height="27.65" fill="#b3cdfb"/>
<rect x="265.00" y="386.00" width="27.27" height="27.65" fill="#e97a5f"/>
<rect x="291.88" y="386.00" width="27.27" height="27.65" fill="#e9d5cb"/>
<rect x="318.75" y="386.00" width="27.27" height="27.65" fill="#f5c1a9"/>
<rect x="345.62" y="386.00" width="27.27" height="27.65" fill="#e9d5cb"/>
<rect x="372.50" y="386.00" width="27.27" height="27.65" fill="#cc403a"/>
<rect x="399.38" y="386.00" width="27.27" height="27.65" fill="#d95847"/>
<rect x="426.25" y="386.00" width="27.27" height="27.65" fill="#f5c0a7"/>
<rect x="453.12" y="386.00" width="27.27" height="27.65" fill="#a7c5fe"/>
<rect x="157.50" y="413.25" width="27.27" height="27.65" fill="#f3c8b2"/>
<rect x="184.38" y="413.25" width="27.27" height="27.65" fill="#b40426"/>
<rect x="211.25" y="413.25" width="27.27" height="27.65" fill="#d8dce2"/>
<rect x="238.12" y="413.25" width="27.27" height="27.65" fill="#3b4cc0"/>
<rect x="265.00" y="413.25" width="27.27" height="27.65" fill="#80a3fa"/>
<rect x="291.88" y="413.25" width="27.27" height="27.65" fill="#f6a283"/>
<rect x="318.75" y="413.25" width="27.27" height="27.65" fill="#f59c7d"/>
<rect x="345.62" y="413.25" width="27.27" height="27.65" fill="#abc8fd"/>
<rect x="372.50" y="413.25" width="27.27" height="27.65" fill="#d5dbe5"/>
<rect x="399.38" y="413.25" width="27.27" height="27.65" fill="#d8dce2"/>
<rect x="426.25" y="413.25" width="27.27" height="27.65" fill="#9ebeff"/>
<rect x="453.12" y="413.25" width="27.27" height="27.65" fill="#7295f4"/>
<rect x="157.50" y="440.50" width="27.27" height="27.65" fill="#cc403a"/>
<rect x="184.38" y="440.50" width="27.27" height="27.65" fill="#d8dce2"/>
<rect x="211.25" y="440.50" width="27.27" height="27.65" fill="#b40426"/>
<rect x="238.12" y="440.50" width="27.27" height="27.65" fill="#b5cdfa"/>
<rect x="265.00" y="440.50" width="27.27" height="27.65" fill="#d95847"/>
<rect x="291.88" y="440.50" width="27.27" height="27.65" fill="#f1ccb8"/>
<rect x="318.75" y="440.50" width="27.27" height="27.65" fill="#c4d5f3"/>
<rect x="345.62" y="440.50" width="27.27" height="27.65" fill="#e9d5cb"/>
<rect x="372.50" y="440.50" width="27.27" height="27.65" fill="#b40426"/>
<rect x="399.38" y="440.50" width="27.27" height="27.65" fill="#c12b30"/>
<rect x="426.25" y="440.50" width="27.27" height="27.65" fill="#f2c9b4"/>
<rect x="453.12" y="440.50" width="27.27" height="27.65" fill="#aec9fc"/>
<rect x="157.50" y="467.75" width="27.27" height="27.65" fill="#b3cdfb"/>
<rect x="184.38" y="467.75" width="27.27" height="27.65" fill="#3b4cc0"/>
<rect x="211.25" y="467.75" width="27.27" height="27.65" fill="#b5cdfa"/>
<rect x="238.12" y="467.75" width="27.27" height="27.65" fill="#b40426"/>
<rect x="265.00" y="467.75" width="27.27" height="27.65" fill="#f7b093"/>
<rect x="291.88" y="467.75" width="27.27" height="27.65" fill="#4358cb"/>
<rect x="318.75" y="467.75" width="27.27" height="27.65" fill="#cad8ef"/>
<rect x="345.62" y="467.75" width="27.27" height="27.65" fill="#f2cbb7"/>
<rect x="372.50" y="467.75" width="27.27" height="27.65" fill="#b9d0f9"/>
<rect x="399.38" y="467.75" width="27.27" height="27.65" fill="#afcafc"/>
<rect x="426.25" y="467.75" width="27.27" height="27.65" fill="#f7b497"/>
<rect x="453.12" y="467.75" width="27.27" height="27.65" fill="#f59c7d"/>
<rect x="157.50" y="495.00" width="27.27" height="27.65" fill="#e97a5f"/>
<rect x="184.38" y="495.00" width="27.27" height="27.65" fill="#80a3fa"/>
<rect x="211.25" y="495.00" width="27.27" height="27.65" fill="#d95847"/>
<rect x="238.12" y="495.00" width="27.27" height="27.65" fill="#f7b093"/>
<rect x="265.00" y="495.00" width="27.27" height="27.65" fill="#b40426"/>
<rect x="291.88" y="495.00" width="27.27" height="27.65" fill="#afcafc"/>
<rect x="318.75" y="495.00" width="27.27" height="27.65" fill="#bcd2f7"/>
<rect x="345.62" y="495.00" width="27.27" height="27.65" fill="#f4c5ad"/>
<rect x="372.50" y="495.00" width="27.27" height="27.65" fill="#d85646"/>
<rect x="399.38" y="495.00" width="27.27" height="27.65" fill="#e46e56"/>
<rect x="426.25" y="495.00" width="27.27" height="27.65" fill="#f7a688"/>
<rect x="453.12" y="495.00" width="27.27" height="27.65" fill="#e5d8d1"/>
<rect x="157.50" y="522.25" width="27.27" height="27.65" fill="#e9d5cb"/>
<rect x="184.38" y="522.25" width="27.27" height="27.65" fill="#f6a283"/>
<rect x="211.25" y="522.25" width="27.27" height="27.65" fill="#f1ccb8"/>
<rect x="238.12" y="522.25" width="27.27" height="27.65" fill="#4358cb"/>
<rect x="265.00" y="522.25" width="27.27" height="27.65" fill="#afcafc"/>
<rect x="291.88" y="522.25" width="27.27" height="27.65" fill="#b40426"/>
<rect x="318.75" y="522.25" width="27.27" height="27.65" fill="#b5cdfa"/>
<rect x="345.62" y="522.25" width="27.27" height="27.65" fill="#94b6ff"/>
<rect x="372.50" y="522.25" width="27.27" height="27.65" fill="#f0cdbb"/>
<rect x="399.38" y="522.25" width="27.27" height="27.65" fill="#f3c7b1"/>
<rect x="426.25" y="522.25" width="27.27" height="27.65" fill="#7295f4"/>
<rect x="453.12" y="522.25" width="27.27" height="27.65" fill="#799cf8"/>
<rect x="157.50" y="549.50" width="27.27" height="27.65" fill="#f5c1a9"/>
<rect x="184.38" y="549.50" width="27.27" height="27.65" fill="#f59c7d"/>
<rect x="211.25" y="549.50" width="27.27" height="27.65" fill="#c4d5f3"/>
<rect x="238.12" y="549.50" width="27.27" height="27.65" fill="#cad8ef"/>
<rect x="265.00" y="549.50" width="27.27" height="27.65" fill="#bcd2f7"/>
<rect x="291.88" y="549.50" width="27.27" height="27.65" fill="#b5cdfa"/>
<rect x="318.75" y="549.50" width="27.27" height="27.65" fill="#b40426"/>
<rect x="345.62" y="549.50" width="27.27" height="27.65" fill="#d7dce3"/>
<rect x="372.50" y="549.50" width="27.27" height="27.65" fill="#c1d4f4"/>
<rect x="399.38" y="549.50" width="27.27" height="27.65" fill="#bcd2f7"/>
<rect x="426.25" y="549.50" width="27.27" height="27.65" fill="#e2dad5"/>
<rect x="453.12" y="549.50" width="27.27" height="27.65" fill="#c1d4f4"/>
<rect x="157.50" y="576.75" width="27.27" height="27.65" fill="#e9d5cb"/>
<rect x="184.38" y="576.75" width="27.27" height="27.65" fill="#abc8fd"/>
<rect x="211.25" y="576.75" width="27.27" height="27.65" fill="#e9d5cb"/>
<rect x="238.12" y="576.75" width="27.27" height="27.65" fill="#f2cbb7"/>
<rect x="265.00" y="576.75" width="27.27" height="27.65" fill="#f4c5ad"/>
<rect x="291.88" y="576.75" width="27.27" height="27.65" fill="#94b6ff"/>
<rect x="318.75" y="576.75" width="27.27" height="27.65" fill="#d7dce3"/>
<rect x="345.62" y="576.75" width="27.27" height="27.65" fill="#b40426"/>
<rect x="372.50" y="576.75" width="27.27" height="27.65" fill="#e9d5cb"/>
<rect x="399.38" y="576.75" width="27.27" height="27.65" fill="#f3c8b2"/>
<rect x="426.25" y="576.75" width="27.27" height="27.65" fill="#ebd3c6"/>
<rect x="453.12" y="576.75" width="27.27" height="27.65" fill="#f7b599"/>
<rect x="157.50" y="604.00" width="27.27" height="27.65" fill="#cc403a"/>
<rect x="184.38" y="604.00" width="27.27" height="27.65" fill="#d5dbe5"/>
<rect x="211.25" y="604.00" width="27.27" height="27.65" fill="#b40426"/>
<rect x="238.12" y="604.00" width="27.27" height="27.65" fill="#b9d0f9"/>
<rect x="265.00" y="604.00" width="27.27" height="27.65" fill="#d85646"/>
<rect x="291.88" y="604.00" width="27.27" height="27.65" fill="#f0cdbb"/>
<rect x="318.75" y="604.00" width="27.27" height="27.65" fill="#c1d4f4"/>
<rect x="345.62" y="604.00" width="27.27" height="27.65" fill="#e9d5cb"/>
<rect x="372.50" y="604.00" width="27.27" height="27.65" fill="#b40426"/>
<rect x="399.38" y="604.00" width="27.27" height="27.65" fill="#c0282f"/>
<rect x="426.25" y="604.00" width="27.27" height="27.65" fill="#f3c7b1"/>
<rect x="453.12" y="604.00" width="27.27" height="27.65" fill="#aec9fc"/>
<rect x="157.50" y="631.25" width="27.27" height="27.65" fill="#d95847"/>
<rect x="184.38" y="631.25" width="27.27" height="27.65" fill="#d8dce2"/>
<rect x="211.25" y="631.25" width="27.27" height="27.65" fill="#c12b30"/>
<rect x="238.12" y="631.25" width="27.27" height="27.65" fill="#afcafc"/>
<rect x="265.00" y="631.25" width="27.27" height="27.65" fill="#e46e56"/>
<rect x="291.88" y="631.25" width="27.27" height="27.65" fill="#f3c7b1"/>
<rect x="318.75" y="631.25" width="27.27" height="27.65" fill="#bcd2f7"/>
<rect x="345.62" y="631.25" width="27.27" height="27.65" fill="#f3c8b2"/>
<rect x="372.50" y="631.25" width="27.27" height="27.65" fill="#c0282f"/>
<rect x="399.38" y="631.25" width="27.27" height="27.65" fill="#b40426"/>
<rect x="426.25" y="631.25" width="27.27" height="27.65" fill="#ead4c8"/>
<rect x="453.12" y="631.25" width="27.27" height="27.65" fill="#b7cff9"/>
<rect x="157.50" y="658.50" width="27.27" height="27.65" fill="#f5c0a7"/>
<rect x="184.38" y="658.50" width="27.27" height="27.65" fill="#9ebeff"/>
<rect x="211.25" y="658.50" width="27.27" height="27.65" fill="#f2c9b4"/>
<rect x="238.12" y="658.50" width="27.27" height="27.65" fill="#f7b497"/>
<rect x="265.00" y="658.50" width="27.27" height="27.65" fill="#f7a688"/>
<rect x="291.88" y="658.50" width="27.27" height="27.65" fill="#7295f4"/>
<rect x="318.75" y="658.50" width="27.27" height="27.65" fill="#e2dad5"/>
<rect x="345.62" y="658.50" width="27.27" height="27.65" fill="#ebd3c6"/>
<rect x="372.50" y="658.50" width="27.27" height="27.65" fill="#f3c7b1"/>
<rect x="399.38" y="658.50" width="27.27" height="27.65" fill="#ead4c8"/>
<rect x="426.25" y="658.50" width="27.27" height="27.65" fill="#b40426"/>
<rect x="453.12" y="658.50" width="27.27" height="27.65" fill="#d7dce3"/>
<rect x="157.50" y="685.75" width="27.27" height="27.65" fill="#a7c5fe"/>
<rect x="184.38" y="685.75" width="27.27" height="27.65" fill="#7295f4"/>
<rect x="211.25" y="685.75" width="27.27" height="27.65" fill="#aec9fc"/>
<rect x="238.12" y="685.75" width="27.27" height="27.65" fill="#f59c7d"/>
<rect x="265.00" y="685.75" width="27.27" height="27.65" fill="#e5d8d1"/>
<rect x="291.88" y="685.75" width="27.27" height="27.65" fill="#799cf8"/>
<rect x="318.75" y="685.75" width="27.27" height="27.65" fill="#c1d4f4"/>
<rect x="345.62" y="685.75" width="27.27" height="27.65" fill="#f7b599"/>
<rect x="372.50" y="685.75" width="27.27" height="27.65" fill="#aec9fc"/>
<rect x="399.38" y="685.75" width="27.27" height="27.65" fill="#b7cff9"/>
<rect x="426.25" y="685.75" width="27.27" height="27.65" fill="#d7dce3"/>
<rect x="453.12" y="685.75" width="27.27" height="27.65" fill="#b40426"/>
<text x="170.94" y="402.82" font-size="10.2" text-anchor="middle" fill="#ffffff">1.00</text>
<text x="197.81" y="402.82" font-size="10.2" text-anchor="middle" fill="#262626">0.30</text>
<text x="224.69" y="402.82" font-size="10.2" text-anchor="middle" fill="#ffffff">0.88</text>
<text x="251.56" y="402.82" font-size="10.2" text-anchor="middle" fill="#262626">-0.15</text>
<text x="278.44" y="402.82" font-size="10.2" text-anchor="middle" fill="#ffffff">0.68</text>
<text x="305.31" y="402.82" font-size="10.2" text-anchor="middle" fill="#262626">0.19</text>
<text x="332.19" y="402.82" font-size="10.2" text-anchor="middle" fill="#262626">0.34</text>
<text x="359.06" y="402.82" font-size="10.2" text-anchor="middle" fill="#262626">0.19</text>
<text x="385.94" y="402.82" font-size="10.2" text-anchor="middle" fill="#ffffff">0.88</text>
<text x="412.81" y="402.82" font-size="10.2" text-anchor="middle" fill="#ffffff">0.80</text>
<text x="439.69" y="402.82" font-size="10.2" text-anchor="middle" fill="#262626">0.35</text>
<text x="466.56" y="402.82" font-size="10.2" text-anchor="middle" fill="#262626">-0.21</text>
<text x="170.94" y="430.07" font-size="10.2" text-anchor="middle" fill="#262626">0.30</text>
<text x="197.81" y="430.07" font-size="10.2" text-anchor="middle" fill="#ffffff">1.00</text>
<text x="224.69" y="430.07" font-size="10.2" text-anchor="middle" fill="#262626">0.07</text>
<text x="251.56" y="430.07" font-size="10.2" text-anchor="middle" fill="#ffffff">-0.80</text>
<text x="278.44" y="430.07" font-size="10.2" text-anchor="middle" fill="#ffffff">-0.42</text>
<text x="305.31" y="430.07" font-size="10.2" text-anchor="middle" fill="#262626">0.51</text>
<text x="332.19" y="430.07" font-size="10.2" text-anchor="middle" fill="#262626">0.54</text>
<text x="359.06" y="430.07" font-size="10.2" text-anchor="middle" fill="#262626">-0.19</text>
<text x="385.94" y="430.07" font-size="10.2" text-anchor="middle" fill="#262626">0.05</text>
<text x="412.81" y="430.07" font-size="10.2" text-anchor="middle" fill="#262626">0.07</text>
<text x="439.69" y="430.07" font-size="10.2" text-anchor="middle" fill="#262626">-0.26</text>
<text x="466.56" y="430.07" font-size="10.2" text-anchor="middle" fill="#ffffff">-0.49</text>
<text x="170.94" y="457.32" font-size="10.2" text-anchor="middle" fill="#ffffff">0.88</text>
<text x="197.81" y="457.32" font-size="10.2" text-anchor="middle" fill="#262626">0.07</text>
<text x="224.69" y="457.32" font-size="10.2" text-anchor="middle" fill="#ffffff">1.00</text>
<text x="251.56" y="457.32" font-size="10.2" text-anchor="middle" fill="#262626">-0.14</text>
<text x="278.44" y="457.32" font-size="10.2" text-anchor="middle" fill="#ffffff">0.80</text>
<text x="305.31" y="457.32" font-size="10.2" text-anchor="middle" fill="#262626">0.27</text>
<text x="332.19" y="457.32" font-size="10.2" text-anchor="middle" fill="#262626">-0.06</text>
<text x="359.06" y="457.32" font-size="10.2" text-anchor="middle" fill="#262626">0.19</text>
<text x="385.94" y="457.32" font-size="10.2" text-anchor="middle" fill="#ffffff">1.00</text>
<text x="412.81" y="457.32" font-size="10.2" text-anchor="middle" fill="#ffffff">0.93</text>
<text x="439.69" y="457.32" font-size="10.2" text-anchor="middle" fill="#262626">0.29</text>
<text x="466.56" y="457.32" font-size="10.2" text-anchor="middle" fill="#262626">-0.18</text>
<text x="170.94" y="484.57" font-size="10.2" text-anchor="middle" fill="#262626">-0.15</text>
<text x="197.81" y="484.57" font-size="10.2" text-anchor="middle" fill="#ffffff">-0.80</text>
<text x="224.69" y="484.57" font-size="10.2" text-anchor="middle" fill="#262626">-0.14</text>
<text x="251.56" y="484.57" font-size="10.2" text-anchor="middle" fill="#ffffff">1.00</text>
<text x="278.44" y="484.57" font-size="10.2" text-anchor="middle" fill="#262626">0.44</text>
<text x="305.31" y="484.57" font-size="10.2" text-anchor="middle" fill="#ffffff">-0.75</text>
<text x="332.19" y="484.57" font-size="10.2" text-anchor="middle" fill="#262626">-0.02</text>
<text x="359.06" y="484.57" font-size="10.2" text-anchor="middle" fill="#262626">0.28</text>
<text x="385.94" y="484.57" font-size="10.2" text-anchor="middle" fill="#262626">-0.12</text>
<text x="412.81" y="484.57" font-size="10.2" text-anchor="middle" fill="#262626">-0.17</text>
<text x="439.69" y="484.57" font-size="10.2" text-anchor="middle" fill="#262626">0.42</text>
<text x="466.56" y="484.57" font-size="10.2" text-anchor="middle" fill="#262626">0.54</text>
<text x="170.94" y="511.82" font-size="10.2" text-anchor="middle" fill="#ffffff">0.68</text>
<text x="197.81" y="511.82" font-size="10.2" text-anchor="middle" fill="#ffffff">-0.42</text>
<text x="224.69" y="511.82" font-size="10.2" text-anchor="middle" fill="#ffffff">0.80</text>
<text x="251.56" y="511.82" font-size="10.2" text-anchor="middle" fill="#262626">0.44</text>
<text x="278.44" y="511.82" font-size="10.2" text-anchor="middle" fill="#ffffff">1.00</text>
<text x="305.31" y="511.82" font-size="10.2" text-anchor="middle" fill="#262626">-0.17</text>
<text x="332.19" y="511.82" font-size="10.2" text-anchor="middle" fill="#262626">-0.10</text>
<text x="359.06" y="511.82" font-size="10.2" text-anchor="middle" fill="#262626">0.32</text>
<text x="385.94" y="511.82" font-size="10.2" text-anchor="middle" fill="#ffffff">0.81</text>
<text x="412.81" y="511.82" font-size="10.2" text-anchor="middle" fill="#ffffff">0.72</text>
<text x="439.69" y="511.82" font-size="10.2" text-anchor="middle" fill="#262626">0.49</text>
<text x="466.56" y="511.82" font-size="10.2" text-anchor="middle" fill="#262626">0.16</text>
<text x="170.94" y="539.08" font-size="10.2" text-anchor="middle" fill="#262626">0.19</text>
<text x="197.81" y="539.08" font-size="10.2" text-anchor="middle" fill="#262626">0.51</text>
<text x="224.69" y="539.08" font-size="10.2" text-anchor="middle" fill="#262626">0.27</text>
<text x="251.56" y="539.08" font-size="10.2" text-anchor="middle" fill="#ffffff">-0.75</text>
<text x="278.44" y="539.08" font-size="10.2" text-anchor="middle" fill="#262626">-0.17</text>
<text x="305.31" y="539.08" font-size="10.2" text-anchor="middle" fill="#ffffff">1.00</text>
<text x="332.19" y="539.08" font-size="10.2" text-anchor="middle" fill="#262626">-0.14</text>
<text x="359.06" y="539.08" font-size="10.2" text-anchor="middle" fill="#262626">-0.31</text>
<text x="385.94" y="539.08" font-size="10.2" text-anchor="middle" fill="#262626">0.26</text>
<text x="412.81" y="539.08" font-size="10.2" text-anchor="middle" fill="#262626">0.31</text>
<text x="439.69" y="539.08" font-size="10.2" text-anchor="middle" fill="#ffffff">-0.49</text>
<text x="466.56" y="539.08" font-size="10.2" text-anchor="middle" fill="#ffffff">-0.45</text>
<text x="170.94" y="566.33" font-size="10.2" text-anchor="middle" fill="#262626">0.34</text>
<text x="197.81" y="566.33" font-size="10.2" text-anchor="middle" fill="#262626">0.54</text>
<text x="224.69" y="566.33" font-size="10.2" text-anchor="middle" fill="#262626">-0.06</text>
<text x="251.56" y="566.33" font-size="10.2" text-anchor="middle" fill="#262626">-0.02</text>
<text x="278.44" y="566.33" font-size="10.2" text-anchor="middle" fill="#262626">-0.10</text>
<text x="305.31" y="566.33" font-size="10.2" text-anchor="middle" fill="#262626">-0.14</text>
<text x="332.19" y="566.33" font-size="10.2" text-anchor="middle" fill="#ffffff">1.00</text>
<text x="359.06" y="566.33" font-size="10.2" text-anchor="middle" fill="#262626">0.06</text>
<text x="385.94" y="566.33" font-size="10.2" text-anchor="middle" fill="#262626">-0.07</text>
<text x="412.81" y="566.33" font-size="10.2" text-anchor="middle" fill="#262626">-0.10</text>
<text x="439.69" y="566.33" font-size="10.2" text-anchor="middle" fill="#262626">0.14</text>
<text x="466.56" y="566.33" font-size="10.2" text-anchor="middle" fill="#262626">-0.07</text>
<text x="170.94" y="593.58" font-size="10.2" text-anchor="middle" fill="#262626">0.19</text>
<text x="197.81" y="593.58" font-size="10.2" text-anchor="middle" fill="#262626">-0.19</text>
<text x="224.69" y="593.58" font-size="10.2" text-anchor="middle" fill="#262626">0.19</text>
<text x="251.56" y="593.58" font-size="10.2" text-anchor="middle" fill="#262626">0.28</text>
<text x="278.44" y="593.58" font-size="10.2" text-anchor="middle" fill="#262626">0.32</text>
<text x="305.31" y="593.58" font-size="10.2" text-anchor="middle" fill="#262626">-0.31</text>
<text x="332.19" y="593.58" font-size="10.2" text-anchor="middle" fill="#262626">0.06</text>
<text x="359.06" y="593.58" font-size="10.2" text-anchor="middle" fill="#ffffff">1.00</text>
<text x="385.94" y="593.58" font-size="10.2" text-anchor="middle" fill="#262626">0.19</text>
<text x="412.81" y="593.58" font-size="10.2" text-anchor="middle" fill="#262626">0.30</text>
<text x="439.69" y="593.58" font-size="10.2" text-anchor="middle" fill="#262626">0.21</text>
<text x="466.56" y="593.58" font-size="10.2" text-anchor="middle" fill="#262626">0.41</text>
<text x="170.94" y="620.83" font-size="10.2" text-anchor="middle" fill="#ffffff">0.88</text>
<text x="197.81" y="620.83" font-size="10.2" text-anchor="middle" fill="#262626">0.05</text>
<text x="224.69" y="620.83" font-size="10.2" text-anchor="middle" fill="#ffffff">1.00</text>
<text x="251.56" y="620.83" font-size="10.2" text-anchor="middle" fill="#262626">-0.12</text>
<text x="278.44" y="620.83" font-size="10.2" text-anchor="middle" fill="#ffffff">0.81</text>
<text x="305.31" y="620.83" font-size="10.2" text-anchor="middle" fill="#262626">0.26</text>
<text x="332.19" y="620.83" font-size="10.2" text-anchor="middle" fill="#262626">-0.07</text>
<text x="359.06" y="620.83" font-size="10.2" text-anchor="middle" fill="#262626">0.19</text>
<text x="385.94" y="620.83" font-size="10.2" text-anchor="middle" fill="#ffffff">1.00</text>
<text x="412.81" y="620.83" font-size="10.2" text-anchor="middle" fill="#ffffff">0.94</text>
<text x="439.69" y="620.83" font-size="10.2" text-anchor="middle" fill="#262626">0.31</text>
<text x="466.56" y="620.83" font-size="10.2" text-anchor="middle" fill="#262626">-0.18</text>
<text x="170.94" y="648.08" font-size="10.2" text-anchor="middle" fill="#ffffff">0.80</text>
<text x="197.81" y="648.08" font-size="10.2" text-anchor="middle" fill="#262626">0.07</text>
<text x="224.69" y="648.08" font-size="10.2" text-anchor="middle" fill="#ffffff">0.93</text>
<text x="251.56" y="648.08" font-size="10.2" text-anchor="middle" fill="#262626">-0.17</text>
<text x="278.44" y="648.08" font-size="10.2" text-anchor="middle" fill="#ffffff">0.72</text>
<text x="305.31" y="648.08" font-size="10.2" text-anchor="middle" fill="#262626">0.31</text>
<text x="332.19" y="648.08" font-size="10.2" text-anchor="middle" fill="#262626">-0.10</text>
<text x="359.06" y="648.08" font-size="10.2" text-anchor="middle" fill="#262626">0.30</text>
<text x="385.94" y="648.08" font-size="10.2" text-anchor="middle" fill="#ffffff">0.94</text>
<text x="412.81" y="648.08" font-size="10.2" text-anchor="middle" fill="#ffffff">1.00</text>
<text x="439.69" y="648.08" font-size="10.2" text-anchor="middle" fill="#262626">0.20</text>
<text x="466.56" y="648.08" font-size="10.2" text-anchor="middle" fill="#262626">-0.13</text>
<text x="170.94" y="675.33" font-size="10.2" text-anchor="middle" fill="#262626">0.35</text>
<text x="197.81" y="675.33" font-size="10.2" text-anchor="middle" fill="#262626">-0.26</text>
<text x="224.69" y="675.33" font-size="10.2" text-anchor="middle" fill="#262626">0.29</text>
<text x="251.56" y="675.33" font-size="10.2" text-anchor="middle" fill="#262626">0.42</text>
<text x="278.44" y="675.33" font-size="10.2" text-anchor="middle" fill="#262626">0.49</text>
<text x="305.31" y="675.33" font-size="10.2" text-anchor="middle" fill="#ffffff">-0.49</text>
<text x="332.19" y="675.33" font-size="10.2" text-anchor="middle" fill="#262626">0.14</text>
<text x="359.06" y="675.33" font-size="10.2" text-anchor="middle" fill="#262626">0.21</text>
<text x="385.94" y="675.33" font-size="10.2" text-anchor="middle" fill="#262626">0.31</text>
<text x="412.81" y="675.33" font-size="10.2" text-anchor="middle" fill="#262626">0.20</text>
<text x="439.69" y="675.33" font-size="10.2" text-anchor="middle" fill="#ffffff">1.00</text>
<text x="466.56" y="675.33" font-size="10.2" text-anchor="middle" fill="#262626">0.06</text>
<text x="170.94" y="702.58" font-size="10.2" text-anchor="middle" fill="#262626">-0.21</text>
<text x="197.81" y="702.58" font-size="10.2" text-anchor="middle" fill="#ffffff">-0.49</text>
<text x="224.69" y="702.58" font-size="10.2" text-anchor="middle" fill="#262626">-0.18</text>
<text x="251.56" y="702.58" font-size="10.2" text-anchor="middle" fill="#262626">0.54</text>
<text x="278.44" y="702.58" font-size="10.2" text-anchor="middle" fill="#262626">0.16</text>
<text x="305.31" y="702.58" font-size="10.2" text-anchor="middle" fill="#ffffff">-0.45</text>
<text x="332.19" y="702.58" font-size="10.2" text-anchor="middle" fill="#262626">-0.07</text>
<text x="359.06" y="702.58" font-size="10.2" text-anchor="middle" fill="#262626">0.41</text>
<text x="385.94" y="702.58" font-size="10.2" text-anchor="middle" fill="#262626">-0.18</text>
<text x="412.81" y="702.58" font-size="10.2" text-anchor="middle" fill="#262626">-0.13</text>
<text x="439.69" y="702.58" font-size="10.2" text-anchor="middle" fill="#262626">0.06</text>
<text x="466.56" y="702.58" font-size="10.2" text-anchor="middle" fill="#ffffff">1.00</text>
<text x="151.6" y="402.93" font-size="9.3" text-anchor="end" fill="#262626">Total Weight</text>
<text x="151.6" y="430.18" font-size="9.3" text-anchor="end" fill="#262626">Volume</text>
<text x="151.6" y="457.43" font-size="9.3" text-anchor="end" fill="#262626">Average Weight</text>
<text x="151.6" y="484.68" font-size="9.3" text-anchor="end" fill="#262626">Number Density</text>
<text x="151.6" y="511.93" font-size="9.3" text-anchor="end" fill="#262626">Mass Density</text>
<text x="151.6" y="539.17" font-size="9.3" text-anchor="end" fill="#262626">Bond Length</text>
<text x="151.6" y="566.42" font-size="9.3" text-anchor="end" fill="#262626">Number of Atom</text>
<text x="151.6" y="593.67" font-size="9.3" text-anchor="end" fill="#262626">Number of unpaired Electron</text>
<text x="151.6" y="620.92" font-size="9.3" text-anchor="end" fill="#262626">Average Number Electron</text>
<text x="151.6" y="648.17" font-size="9.3" text-anchor="end" fill="#262626">Maximum Principal quantum number</text>
<text x="151.6" y="675.42" font-size="9.3" text-anchor="end" fill="#262626">Pauling Electronegivity</text>
<text x="151.6" y="702.67" font-size="9.3" text-anchor="end" fill="#262626">Predicted LTC</text>
<text transform="translate(172.94,718.3) rotate(-90)" font-size="9.4" text-anchor="end" fill="#262626">Total Weight</text>
<text transform="translate(199.81,718.3) rotate(-90)" font-size="9.4" text-anchor="end" fill="#262626">Volume</text>
<text transform="translate(226.69,718.3) rotate(-90)" font-size="9.4" text-anchor="end" fill="#262626">Average Weight</text>
<text transform="translate(253.56,718.3) rotate(-90)" font-size="9.4" text-anchor="end" fill="#262626">Number Density</text>
<text transform="translate(280.44,718.3) rotate(-90)" font-size="9.4" text-anchor="end" fill="#262626">Mass Density</text>
<text transform="translate(307.31,718.3) rotate(-90)" font-size="9.4" text-anchor="end" fill="#262626">Bond Length</text>
<text transform="translate(334.19,718.3) rotate(-90)" font-size="9.4" text-anchor="end" fill="#262626">Number of Atom</text>
<text transform="translate(361.06,718.3) rotate(-90)" font-size="9.4" text-anchor="end" fill="#262626">Number of unpaired Electron</text>
<text transform="translate(387.94,718.3) rotate(-90)" font-size="9.4" text-anchor="end" fill="#262626">Average Number Electron</text>
<text transform="translate(414.81,718.3) rotate(-90)" font-size="9.4" text-anchor="end" fill="#262626">Maximum Principal quantum number</text>
<text transform="translate(441.69,718.3) rotate(-90)" font-size="9.4" text-anchor="end" fill="#262626">Pauling Electronegivity</text>
<text transform="translate(468.56,718.3) rotate(-90)" font-size="9.4" text-anchor="end" fill="#262626">Predicted LTC</text>
<defs><linearGradient id="cwg" x1="0" y1="0" x2="0" y2="1"><stop offset="0.000" stop-color="#b40426"/><stop offset="0.025" stop-color="#bd1f2d"/><stop offset="0.050" stop-color="#c53334"/><stop offset="0.075" stop-color="#cf453c"/><stop offset="0.100" stop-color="#d65244"/><stop offset="0.125" stop-color="#dd5f4b"/><stop offset="0.150" stop-color="#e36c55"/><stop offset="0.175" stop-color="#e9785d"/><stop offset="0.200" stop-color="#ee8468"/><stop offset="0.225" stop-color="#f18f71"/><stop offset="0.250" stop-color="#f4987a"/><stop offset="0.275" stop-color="#f6a385"/><stop offset="0.300" stop-color="#f7ac8e"/><stop offset="0.325" stop-color="#f7b599"/><stop offset="0.350" stop-color="#f6bda2"/><stop offset="0.375" stop-color="#f5c4ac"/><stop offset="0.400" stop-color="#f2cbb7"/><stop offset="0.425" stop-color="#eed0c0"/><stop offset="0.450" stop-color="#e9d5cb"/><stop offset="0.475" stop-color="#e3d9d3"/><stop offset="0.500" stop-color="#dddcdc"/><stop offset="0.525" stop-color="#d6dce4"/><stop offset="0.550" stop-color="#cfdaea"/><stop offset="0.575" stop-color="#c7d7f0"/><stop offset="0.600" stop-color="#c0d4f5"/><stop offset="0.625" stop-color="#b9d0f9"/><stop offset="0.650" stop-color="#afcafc"/><stop offset="0.675" stop-color="#a7c5fe"/><stop offset="0.700" stop-color="#9ebeff"/><stop offset="0.725" stop-color="#96b7ff"/><stop offset="0.750" stop-color="#8db0fe"/><stop offset="0.775" stop-color="#84a7fc"/><stop offset="0.800" stop-color="#7b9ff9"/><stop offset="0.825" stop-color="#7295f4"/><stop offset="0.850" stop-color="#6a8bef"/><stop offset="0.875" stop-color="#6282ea"/><stop offset="0.900" stop-color="#5977e3"/><stop offset="0.925" stop-color="#516ddb"/><stop offset="0.950" stop-color="#4961d2"/><stop offset="0.975" stop-color="#4257c9"/><stop offset="1.000" stop-color="#3b4cc0"/></linearGradient></defs>
<rect x="500" y="386" width="16" height="327" fill="url(#cwg)"/>
<line x1="516" y1="386.00" x2="520" y2="386.00" stroke="#262626" stroke-width="0.9"/>
<text x="522.5" y="388.80" font-size="9.5" fill="#262626">1.0</text>
<line x1="516" y1="422.33" x2="520" y2="422.33" stroke="#262626" stroke-width="0.9"/>
<text x="522.5" y="425.13" font-size="9.5" fill="#262626">0.8</text>
<line x1="516" y1="458.67" x2="520" y2="458.67" stroke="#262626" stroke-width="0.9"/>
<text x="522.5" y="461.47" font-size="9.5" fill="#262626">0.6</text>
<line x1="516" y1="495.00" x2="520" y2="495.00" stroke="#262626" stroke-width="0.9"/>
<text x="522.5" y="497.80" font-size="9.5" fill="#262626">0.4</text>
<line x1="516" y1="531.33" x2="520" y2="531.33" stroke="#262626" stroke-width="0.9"/>
<text x="522.5" y="534.13" font-size="9.5" fill="#262626">0.2</text>
<line x1="516" y1="567.67" x2="520" y2="567.67" stroke="#262626" stroke-width="0.9"/>
<text x="522.5" y="570.47" font-size="9.5" fill="#262626">0.0</text>
<line x1="516" y1="604.00" x2="520" y2="604.00" stroke="#262626" stroke-width="0.9"/>
<text x="522.5" y="606.80" font-size="9.5" fill="#262626">−0.2</text>
<line x1="516" y1="640.33" x2="520" y2="640.33" stroke="#262626" stroke-width="0.9"/>
<text x="522.5" y="643.13" font-size="9.5" fill="#262626">−0.4</text>
<line x1="516" y1="676.67" x2="520" y2="676.67" stroke="#262626" stroke-width="0.9"/>
<text x="522.5" y="679.47" font-size="9.5" fill="#262626">−0.6</text>
</svg></body></html>
